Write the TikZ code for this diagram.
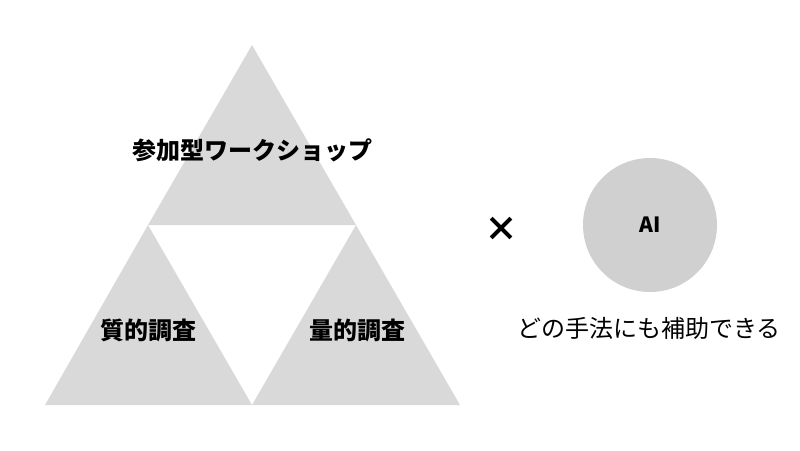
\documentclass[tikz,border=0pt]{standalone}
\usepackage{fontspec}
\setmainfont{Noto Sans CJK JP}
\newfontfamily\jp{Noto Sans CJK JP}
\definecolor{trigray}{HTML}{D9D9D9}
\definecolor{aigray}{HTML}{D0D0D0}
\tikzset{
  tri/.style={fill=trigray},
  lbl/.style={font=\jp\bfseries\fontsize{24}{26}\selectfont, inner sep=0pt}
}
\begin{document}
\begin{tikzpicture}[x=1pt, y=-1pt]
    \useasboundingbox (0,0) rectangle (800,450);

    % Define the three triangles
    \fill[tri] (252,45) -- (148,225) -- (356,225) -- cycle;
    \fill[tri] (148,225) -- (45,405) -- (252,405) -- cycle;
    \fill[tri] (356,225) -- (252,405) -- (460,405) -- cycle;

    % Labels for the methods
    \node[lbl] (workshop) at (252,150) {参加型ワークショップ};
    \node[lbl] (quali) at (148.5,330) {質的調査};
    \node[lbl] (quanti) at (357,330) {量的調査};

    % Times sign and AI circle
    \node[font=\jp\bfseries\fontsize{34}{36}\selectfont, inner sep=0pt] (times) at (501,229) {×};
    \node[circle, fill=aigray, minimum size=134pt, inner sep=0pt,
          font=\jp\bfseries\fontsize{21}{23}\selectfont] (ai) at (650,225) {AI};

    % Caption under the circle
    \node[font=\jp\fontsize{24}{26}\selectfont, inner sep=0pt] (note) at (649,328) {どの手法にも補助できる};
\end{tikzpicture}
\end{document}
